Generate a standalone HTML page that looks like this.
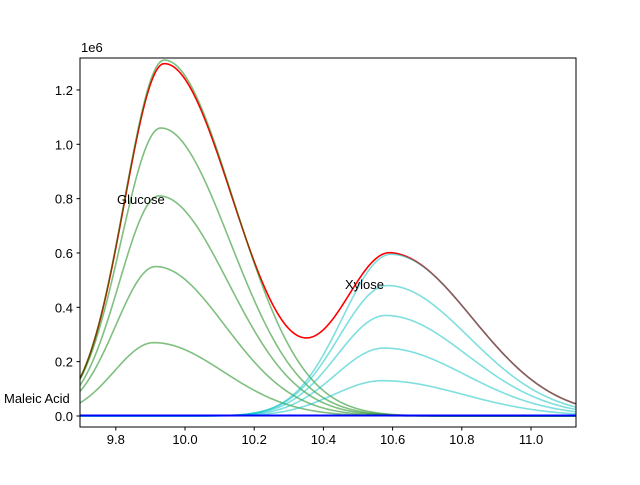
<!DOCTYPE html>
<html><head><meta charset="utf-8"><style>
body{margin:0;background:#fff}
svg text{font-family:"Liberation Sans","DejaVu Sans",sans-serif;font-size:13px;fill:#000}
</style></head><body>
<svg id="chart" width="640" height="480" xmlns="http://www.w3.org/2000/svg">
<rect width="640" height="480" fill="#fff"/>
<g id="series"></g>
<rect x="80" y="58" width="496" height="369" fill="none" stroke="#000" stroke-width="1"/>
<g id="axes"></g>
<text x="81" y="52">1e6</text>
<text x="117" y="204">Glucose</text>
<text x="345" y="289">Xylose</text>
<text x="4" y="403">Maleic Acid</text>
</svg>
<script>
const glucoseHeights=[0.27,0.55,0.81,1.06,1.31];
const glucoseCenters=[9.91,9.915,9.925,9.93,9.94];
const xyloseHeights=[0.13,0.25,0.37,0.48,0.595];
const xyloseCenters=[10.57,10.575,10.58,10.585,10.595];
const glucoseSigma=[0.115,0.2];
const xyloseSigma=[0.14,0.235];
const xTicks=[9.8,10.0,10.2,10.4,10.6,10.8,11.0];
const yTicks=[0.0,0.2,0.4,0.6,0.8,1.0,1.2];
const xMin=9.6965,xMax=11.130,yMin=-0.0405,yMax=1.3176;
const L=80,R=576,T=58,B=427;
const sx=v=>L+(v-xMin)/(xMax-xMin)*(R-L);
const sy=v=>B-(v-yMin)/(yMax-yMin)*(B-T);
const NS="http://www.w3.org/2000/svg";
function peak(x,h,c,s){const sg=x<c?s[0]:s[1];return h*Math.exp(-((x-c)**2)/(2*sg*sg));}
function path(fn){let d="";for(let i=0;i<=400;i++){const x=xMin+(xMax-xMin)*i/400;d+=(i?"L":"M")+sx(x).toFixed(2)+","+sy(fn(x)).toFixed(2);}return d;}
const g=document.getElementById("series");
function addPath(d,stroke,w,op,name){const p=document.createElementNS(NS,"path");p.setAttribute("d",d);p.setAttribute("fill","none");p.setAttribute("stroke",stroke);p.setAttribute("stroke-width",w);p.setAttribute("stroke-opacity",op);


g.appendChild(p);}
const gl=glucoseHeights.length-1,xl=xyloseHeights.length-1;
addPath(path(x=>peak(x,glucoseHeights[gl]*0.99,glucoseCenters[gl],glucoseSigma)+peak(x,xyloseHeights[xl],xyloseCenters[xl],xyloseSigma)),"#ff0000",1.6,1,"total-line");
glucoseHeights.forEach((h,i)=>addPath(path(x=>peak(x,h,glucoseCenters[i],glucoseSigma)),"#008000",1.6,0.5,"glucose-line-"+(i+1)));
xyloseHeights.forEach((h,i)=>addPath(path(x=>peak(x,h,xyloseCenters[i],xyloseSigma)),"#00bfbf",1.6,0.5,"xylose-line-"+(i+1)));
addPath(path(x=>0.002),"#0000ff",2,1,"maleic-acid-line");
const ax=document.getElementById("axes");
function el(tag,attrs,txt){const e=document.createElementNS(NS,tag);for(const k in attrs)e.setAttribute(k,attrs[k]);if(txt!==undefined)e.textContent=txt;ax.appendChild(e);return e;}
xTicks.forEach(v=>{const x=sx(v);
const t=el("line",{x1:x,x2:x,y1:B,y2:B+3.5,stroke:"#000"});


const l=el("text",{x:x,y:B+17,"text-anchor":"middle"},v.toFixed(1));

});
yTicks.forEach(v=>{const y=sy(v);
const t=el("line",{x1:L-3.5,x2:L,y1:y,y2:y,stroke:"#000"});


const l=el("text",{x:L-7,y:y+5,"text-anchor":"end"},v.toFixed(1));

});
</script>
</body></html>
